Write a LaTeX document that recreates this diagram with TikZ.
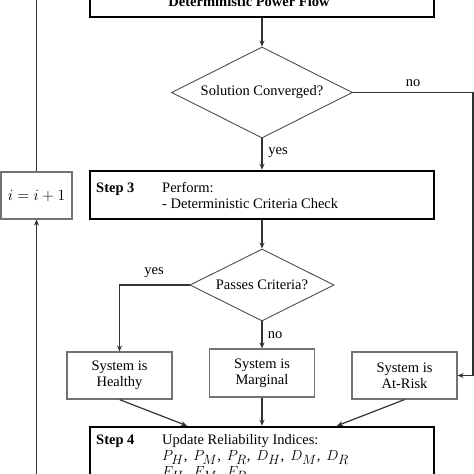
\documentclass[tikz,border=0pt]{standalone}
\usepackage{fix-cm}
\usepackage[no-math]{fontspec}
\setmainfont{Liberation Serif}
\usetikzlibrary{shapes.geometric,arrows.meta}
\DeclareMathSizes{14.5}{14.5}{13.5}{10}
\definecolor{boxgray}{gray}{0.45}
\definecolor{diagray}{gray}{0.3}
\definecolor{linegray}{gray}{0.2}
\newcommand{\sep}{,\hspace{6pt}}
\begin{document}
\begin{tikzpicture}[x=1pt,y=-1pt,font=\fontsize{14.5}{16}\selectfont,
  thickbox/.style={draw=black,line width=2.5pt,inner sep=0pt,minimum width=344pt},
  thinbox/.style={draw=boxgray,line width=1.2pt,inner sep=0pt,minimum width=105pt,minimum height=47pt,align=center},
  decision/.style={diamond,draw=diagray,line width=0.9pt,inner sep=0pt,aspect=2},
  conn/.style={draw=linegray,line width=1.2pt},
  arrow/.style={conn,-{Stealth[length=6pt,width=5pt]}},
  txt/.style={inner sep=0pt,anchor=base west},
  lbl/.style={inner sep=0pt}]
\useasboundingbox (0,0) rectangle (474,474);
% boxes
\node[thickbox,minimum height=54pt] (top) at (262,-10) {};
\node[inner sep=0pt,anchor=base,font=\fontsize{14.5}{16}\selectfont\bfseries] (toptxt) at (249,6) {Deterministic Power Flow};
\node[decision,minimum width=181pt,minimum height=91pt] (d1) at (262,92.5) {Solution Converged?};
\node[thickbox,minimum height=48pt] (s3) at (262,195) {};
\node[txt,font=\fontsize{14.5}{16}\selectfont\bfseries] (s3a) at (96,192) {Step 3};
\node[txt] (s3b) at (162,192) {Perform:};
\node[txt] (s3c) at (162,208) {- Deterministic Criteria Check};
\node[draw=boxgray,line width=1.2pt,inner sep=0pt,minimum width=71pt,minimum height=47pt,font=\fontsize{15.6}{17}\selectfont] (inc) at (36.5,195.5) {$i=i+1$};
\node[decision,minimum width=144pt,minimum height=72pt] (d2) at (262,285) {Passes Criteria?};
\node[thinbox] (healthy) at (119.5,375.5) {System is\\Healthy};
\node[thinbox,minimum height=48pt] (marg) at (262,373) {System is\\Marginal};
\node[thinbox] (risk) at (404.5,375.5) {System is\\At-Risk};
\node[thickbox,minimum height=66pt] (s4) at (262,460) {};
\node[txt,font=\fontsize{14.5}{16}\selectfont\bfseries] (s4a) at (96,444) {Step 4};
\node[txt] (s4b) at (162,444) {Update Reliability Indices:};
\node[txt] (s4c) at (162,460) {$P_H$\sep$P_M$\sep$P_R$\sep$D_H$\sep$D_M$\sep$D_R$};
\node[txt] (s4d) at (162,476) {$F_H$\sep$F_M$\sep$F_R$};
% labels
\node[lbl] (no1) at (413,83) {no};
\node[lbl] (yes1) at (278,153) {yes};
\node[lbl] (yes2) at (154,273) {yes};
\node[lbl] (no2) at (275,335) {no};
% connectors
\coordinate (c1) at (473,375.5);
\coordinate (lb) at (36.5,480);
\coordinate (lt) at (36.5,-5);
\draw[arrow] (top.south) -- (d1.north);
\draw[arrow] (d1.south) -- (s3.north);
\draw[arrow] (d1.east) -| (c1) -- (risk.east);
\draw[arrow] (s3.south) -- (d2.north);
\draw[arrow] (d2.west) -| (healthy.north);
\draw[arrow] (d2.south) -- (marg.north);
\draw[arrow] (healthy.south) -- ([xshift=-75pt]s4.north);
\draw[arrow] (marg.south) -- (s4.north);
\draw[arrow] (risk.south) -- ([xshift=75pt]s4.north);
\draw[arrow] (lb) -- (inc.south);
\draw[conn] (inc.north) -- (lt);
\end{tikzpicture}
\end{document}
